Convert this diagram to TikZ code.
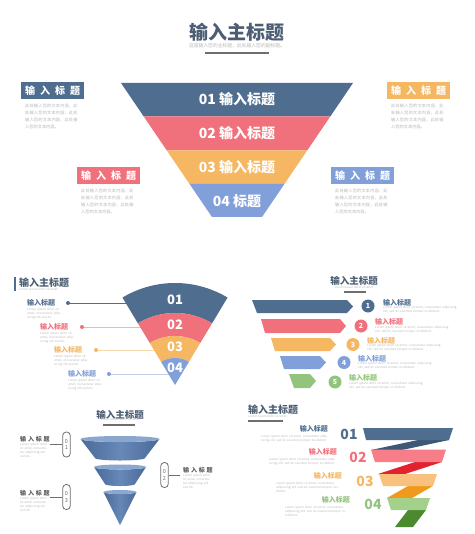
\documentclass[tikz,border=0pt]{standalone}
\usepackage{fontspec}
\setmainfont{Noto Sans CJK SC}
\XeTeXlinebreaklocale "zh"
\XeTeXlinebreakskip=0pt plus 1pt
\usetikzlibrary{calc}
\definecolor{cSlate}{HTML}{4F6E8F}
\definecolor{cPink}{HTML}{F0707B}
\definecolor{cGold}{HTML}{F5B761}
\definecolor{cPeri}{HTML}{819FD8}
\definecolor{cGreen}{HTML}{93C47D}
\definecolor{cTitle}{HTML}{4C5E74}
\definecolor{cTxt}{HTML}{B8B8B8}
\definecolor{cBar}{HTML}{6E6E6E}
\definecolor{cLab}{HTML}{5A5A5A}
\definecolor{cLinePink}{HTML}{F4B3B8}
\definecolor{cLineGold}{HTML}{F8D9AE}
\definecolor{cLinePeri}{HTML}{C2CFEA}
\definecolor{rDark}{HTML}{3D5776}
\definecolor{rPink}{HTML}{F77E88}
\definecolor{rRed}{HTML}{E2232F}
\definecolor{rLOr}{HTML}{F8C27E}
\definecolor{rOr}{HTML}{EF9A1C}
\definecolor{rLGr}{HTML}{A3D08A}
\definecolor{rDGr}{HTML}{4C8A30}
\definecolor{cConeE}{HTML}{4A6A97}
\definecolor{cConeM}{HTML}{6789B8}
\definecolor{cConeTop}{HTML}{8AA7D0}
\tikzset{
  ttl/.style={font=\fontsize{#1}{#1}\selectfont\bfseries, text=cTitle, inner sep=0},
  subt/.style={font=\fontsize{#1}{#1}\selectfont, text=cTxt, inner sep=0},
  para/.style={font=\fontsize{4.2}{7}\selectfont, text=cTxt, inner sep=0, align=left, text width=#1},
  tinyp/.style={font=\fontsize{3}{4}\selectfont, text=cTxt, inner sep=0, align=left, text width=#1},
  tinypr/.style={font=\fontsize{3}{4}\selectfont, text=cTxt, inner sep=0, align=right, text width=#1},
  boxlbl/.style={fill=#1, text=white, font=\fontsize{10}{10}\selectfont\bfseries, minimum width=63, minimum height=17, inner sep=0},
  funlbl/.style={text=white, font=\fontsize{14}{14}\selectfont\bfseries, inner sep=0},
  fannum/.style={text=white, font=\fontsize{13}{13}\selectfont\bfseries, inner sep=0},
  smlbl/.style={text=#1, font=\fontsize{7}{7}\selectfont\bfseries, inner sep=0},
  numc/.style={circle, fill=#1, text=white, minimum size=13, inner sep=0, font=\fontsize{7}{7}\selectfont\bfseries},
  pill/.style={draw=cBar, line width=0.8, rounded corners=3.5, minimum width=7.5, minimum height=25, inner sep=0, align=center, text=cBar, font=\fontsize{5.5}{6.5}\selectfont},
  bignum/.style={text=#1, font=\fontsize{14}{14}\selectfont\bfseries, inner sep=0},
  bar/.style={draw=cBar, line width=#1},
}
\newcommand\fanband[3]{\fill[#1] plot[domain=-121:-59,samples=40] ({175+#2*cos(\x)},{385+#2*sin(\x)}) -- plot[domain=-59:-121,samples=40] ({175+#3*cos(\x)},{385+#3*sin(\x)}) -- cycle;}
\newcommand\zhtxt{此处输入您的文本内容，此处输入您的文本内容，此处输入您的文本内容，此处输入您的文本内容。}
\newcommand\entxt{Lorem ipsum dolor sit amet, consectetur adipiscing elit, sed do eiusmod tempor incididunt.}
\newcommand\entxtb{Lorem ipsum dolor sit amet, consectetur adipiscing elit, sed do eiusmod.}
\newcommand\entxtc{Lorem ipsum dolor sit amet, consectetur adipiscing elit sed do.}
\begin{document}
\begin{tikzpicture}[x=1pt,y=-1pt]
\useasboundingbox (0,0) rectangle (474,534);
\fill[white] (0,0) rectangle (474,534);

% ================= Section 1 =================
\node[ttl=19] (t1) at (237,32) {输入主标题};
\node[subt=4.8] (s1) at (237,45.5) {这是输入您的主标题，此处输入您的副标题。};
\coordinate (b1a) at (205,53); \coordinate (b1b) at (269,53);
\draw[bar=2.5] (b1a) -- (b1b);

\fill[cSlate] (121,83) -- (353,83) -- (330.25,116.5) -- (143.75,116.5) -- cycle;
\fill[cPink] (143.75,116.5) -- (330.25,116.5) -- (307.17,150.5) -- (166.83,150.5) -- cycle;
\fill[cGold] (166.83,150.5) -- (307.17,150.5) -- (284.42,184) -- (189.58,184) -- cycle;
\fill[cPeri] (189.58,184) -- (284.42,184) -- (262,217) -- (212,217) -- cycle;
\node[funlbl] (f1) at (237,99.5) {01 输入标题};
\node[funlbl] (f2) at (237,133.5) {02 输入标题};
\node[funlbl] (f3) at (237,167.5) {03 输入标题};
\node[funlbl] (f4) at (237,201) {04 标题};

\node[boxlbl=cSlate] (bx1) at (52.5,90.5) {输\kern5pt 入\kern5pt 标\kern5pt 题};
\node[para=54, anchor=north west] (px1) at (25,103.5) {\zhtxt};
\node[boxlbl=cPink] (bx2) at (108.5,175.5) {输\kern5pt 入\kern5pt 标\kern5pt 题};
\node[para=54, anchor=north west] (px2) at (81,188.5) {\zhtxt};
\node[boxlbl=cGold] (bx3) at (418.5,90.5) {输\kern5pt 入\kern5pt 标\kern5pt 题};
\node[para=54, anchor=north west] (px3) at (391,103.5) {\zhtxt};
\node[boxlbl=cPeri] (bx4) at (362.5,175.5) {输\kern5pt 入\kern5pt 标\kern5pt 题};
\node[para=54, anchor=north west] (px4) at (335,188.5) {\zhtxt};

% ================= Section 2 =================
\coordinate (v2a) at (15,277); \coordinate (v2b) at (15,291);
\draw[cSlate, line width=1.5] (v2a) -- (v2b);
\node[ttl=10, anchor=west] (t2) at (19,283) {输入主标题};
\node[subt=3, anchor=west] (s2) at (19,289.5) {Lorem ipsum dolor sit amet};

\coordinate (d1) at (68,303); \coordinate (e1) at (150,303);
\coordinate (d2) at (82,327); \coordinate (e2) at (160,327);
\coordinate (d3) at (96,350); \coordinate (e3) at (168,350);
\coordinate (d4) at (109,374); \coordinate (e4) at (173,374);
\draw[cSlate, line width=0.7] (d1) -- (e1);
\draw[cLinePink, line width=0.7] (d2) -- (e2);
\draw[cLineGold, line width=0.7] (d3) -- (e3);
\draw[cLinePeri, line width=0.7] (d4) -- (e4);
\fill[cSlate] (d1) circle[radius=2];
\fill[cPink] (d2) circle[radius=2];
\fill[cGold] (d3) circle[radius=2];
\fill[cPeri] (d4) circle[radius=2];

\fanband{cSlate}{102}{72}
\fanband{cPink}{72}{49}
\fanband{cGold}{49}{27}
\fanband{cPeri}{27}{0}
\node[fannum] (n1) at (175,300) {01};
\node[fannum] (n2) at (175,325) {02};
\node[fannum] (n3) at (175,347) {03};
\node[fannum] (n4) at (175,367.5) {04};

\node[smlbl=cSlate, anchor=west] (k1) at (27,303) {输入标题};
\node[tinyp=36, anchor=north west] (q1) at (27,308) {\entxtc};
\node[smlbl=cPink, anchor=west] (k2) at (40,327) {输入标题};
\node[tinyp=36, anchor=north west] (q2) at (40,332) {\entxtc};
\node[smlbl=cGold, anchor=west] (k3) at (54,350) {输入标题};
\node[tinyp=36, anchor=north west] (q3) at (54,355) {\entxtc};
\node[smlbl=cPeri, anchor=west] (k4) at (68,374) {输入标题};
\node[tinyp=36, anchor=north west] (q4) at (68,379) {\entxtc};

% ================= Section 3 =================
\node[ttl=9.5] (t3) at (354,281) {输入主标题};
\node[subt=3] (s3) at (354,287.5) {Lorem ipsum dolor sit amet};
\coordinate (b3a) at (344,292); \coordinate (b3b) at (366,292);
\draw[bar=1.2] (b3a) -- (b3b);

\fill[cSlate] (252,300) -- (347,300) -- (353,306.5) -- (347,313) -- (257,313) -- cycle;
\fill[cPink] (261,319) -- (340,319) -- (346,326) -- (340,333) -- (265,333) -- cycle;
\fill[cGold] (271,338) -- (330,338) -- (336,344.5) -- (330,351) -- (275,351) -- cycle;
\fill[cPeri] (280,356) -- (320,356) -- (326,362.5) -- (320,369) -- (284,369) -- cycle;
\fill[cGreen] (289,374) -- (310,374) -- (316,381) -- (310,388) -- (294,388) -- cycle;

\node[numc=cSlate] (c1) at (368,306) {1};
\node[numc=cPink] (c2) at (361,326) {2};
\node[numc=cGold] (c3) at (353,344.5) {3};
\node[numc=cPeri] (c4) at (344,362.5) {4};
\node[numc=cGreen] (c5) at (335,382) {5};

\node[smlbl=cSlate, anchor=west] (m1) at (383,302.5) {输入标题};
\node[tinyp=74, anchor=north west] (r1) at (383,306) {\entxt};
\node[smlbl=cPink, anchor=west] (m2) at (375,322) {输入标题};
\node[tinyp=74, anchor=north west] (r2) at (375,325.5) {\entxt};
\node[smlbl=cGold, anchor=west] (m3) at (367,340.5) {输入标题};
\node[tinyp=74, anchor=north west] (r3) at (367,344) {\entxt};
\node[smlbl=cPeri, anchor=west] (m4) at (358,358.5) {输入标题};
\node[tinyp=74, anchor=north west] (r4) at (358,362) {\entxt};
\node[smlbl=cGreen, anchor=west] (m5) at (349,378) {输入标题};
\node[tinyp=74, anchor=north west] (r5) at (349,381.5) {\entxt};

% ================= Section 4 =================
\node[ttl=9.5] (t4) at (120,414.5) {输入主标题};
\node[subt=3] (s4) at (120,420) {Lorem ipsum dolor sit amet};
\coordinate (b4a) at (103,425); \coordinate (b4b) at (135,425);
\draw[bar=1.2] (b4a) -- (b4b);

\shade[left color=cConeE, right color=cConeE, middle color=cConeM]
  ({120-39.5},439) -- ({120-25},458)
  -- plot[domain=180:0,samples=30] ({120+25*cos(\x)},{458+2.5*sin(\x)})
  -- ({120+39.5},439)
  -- plot[domain=0:180,samples=30] ({120+39.5*cos(\x)},{439+3*sin(\x)}) -- cycle;
\fill[cConeTop] (120,439) ellipse[x radius=39.5, y radius=3];
\shade[left color=cConeE, right color=cConeE, middle color=cConeM]
  ({120-26},467) -- ({120-15},484)
  -- plot[domain=180:0,samples=30] ({120+15*cos(\x)},{484+2*sin(\x)})
  -- ({120+26},467)
  -- plot[domain=0:180,samples=30] ({120+26*cos(\x)},{467+2.5*sin(\x)}) -- cycle;
\fill[cConeTop] (120,467) ellipse[x radius=26, y radius=2.5];
\shade[left color=cConeE, right color=cConeE, middle color=cConeM]
  ({120-16.5},492) -- (120,525) -- ({120+16.5},492)
  -- plot[domain=0:180,samples=30] ({120+16.5*cos(\x)},{492+2*sin(\x)}) -- cycle;
\fill[cConeTop] (120,492) ellipse[x radius=16.5, y radius=2];

\node[pill] (p1) at (66.5,444.5) {0\\1};
\node[pill] (p2) at (164.5,475) {0\\2};
\node[pill] (p3) at (66.5,497) {0\\3};
\coordinate (g1) at (50,444.5); \coordinate (g2) at (180,475); \coordinate (g3) at (50,497);
\draw[cBar, line width=0.8] (g1) -- (p1.west);
\draw[cBar, line width=0.8] (p2.east) -- (g2);
\draw[cBar, line width=0.8] (g3) -- (p3.west);

\node[text=cLab, font=\fontsize{6}{6}\selectfont\bfseries, inner sep=0, anchor=west] (h1) at (20,439) {输\kern1.8pt 入\kern1.8pt 标\kern1.8pt 题};
\node[tinyp=29, anchor=north west] (u1) at (20,442.5) {\entxtc};
\node[text=cLab, font=\fontsize{6}{6}\selectfont\bfseries, inner sep=0, anchor=west] (h2) at (183,470) {输\kern1.8pt 入\kern1.8pt 标\kern1.8pt 题};
\node[tinyp=29, anchor=north west] (u2) at (183,473.5) {\entxtc};
\node[text=cLab, font=\fontsize{6}{6}\selectfont\bfseries, inner sep=0, anchor=west] (h3) at (20,493) {输\kern1.8pt 入\kern1.8pt 标\kern1.8pt 题};
\node[tinyp=29, anchor=north west] (u3) at (20,496.5) {\entxtc};

% ================= Section 5 =================
\node[ttl=10, anchor=west] (t5) at (248,410) {输入主标题};
\node[subt=3, anchor=west] (s5) at (248,417) {Lorem ipsum dolor sit amet};
\coordinate (b5a) at (248,421); \coordinate (b5b) at (283,421);
\draw[bar=1.2] (b5a) -- (b5b);

\fill[rDark] (371,450) -- (402,450) -- (449,440) -- (418,440) -- cycle;
\fill[rRed] (378,474) -- (405,474) -- (442,462) -- (415,462) -- cycle;
\fill[rOr] (387,498) -- (412,498) -- (433,486) -- (408,486) -- cycle;
\fill[rDGr] (408,510) -- (426,510) -- (413,527) -- (395,527) -- cycle;
\fill[cSlate] (363,428) -- (453,428) -- (449,440) -- (366,440) -- cycle;
\fill[rPink] (371,449.5) -- (446,449.5) -- (442,462) -- (375,462) -- cycle;
\fill[rLOr] (379,474) -- (437,474) -- (433,486) -- (383,486) -- cycle;
\fill[rLGr] (387,498) -- (430,498) -- (426,510) -- (391,510) -- cycle;

\node[bignum=cSlate] (z1) at (349,434) {01};
\node[bignum=cPink] (z2) at (358,457.5) {02};
\node[bignum=cGold] (z3) at (365,481) {03};
\node[bignum=cGreen] (z4) at (373,504) {04};

\node[smlbl=cSlate, anchor=east] (w1) at (328,429) {输入标题};
\node[tinyp=67, anchor=north west] (y1) at (261,434.5) {\entxt};
\node[smlbl=cPink, anchor=east] (w2) at (337,452) {输入标题};
\node[tinyp=68, anchor=north west] (y2) at (269,457.5) {\entxt};
\node[smlbl=cGold, anchor=east] (w3) at (342,476) {输入标题};
\node[tinyp=66, anchor=north west] (y3) at (276,481.5) {\entxt};
\node[smlbl=cGreen, anchor=east] (w4) at (350,500) {输入标题};
\node[tinyp=65, anchor=north west] (y4) at (285,505.5) {\entxt};
\end{tikzpicture}
\end{document}
